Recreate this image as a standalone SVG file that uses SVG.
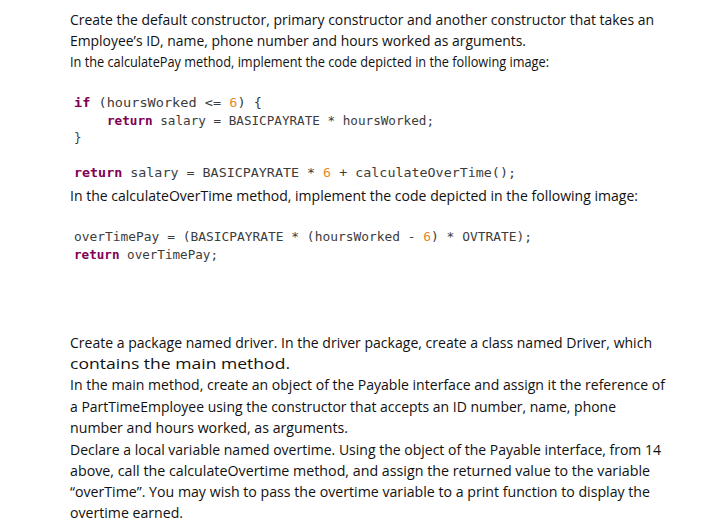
<svg xmlns="http://www.w3.org/2000/svg" width="701" height="523" viewBox="0 0 701 523">
<style>
.t{font-family:"Open Sans","Liberation Sans",sans-serif;font-size:14.3px;fill:#111}
.c{font-family:"DejaVu Sans Mono","Liberation Mono",monospace;font-size:12.5px;fill:#3c3c3c}
.k{fill:#7f0055;font-weight:bold}
.n{fill:#e8892a}
</style>
<rect width="701" height="523" fill="#fff"/>
<text class="t" x="70" y="25" textLength="584" lengthAdjust="spacingAndGlyphs">Create the default constructor, primary constructor and another constructor that takes an</text>
<text class="t" x="70" y="46" textLength="456" lengthAdjust="spacingAndGlyphs">Employee’s ID, name, phone number and hours worked as arguments.</text>
<text class="t" x="70" y="67" textLength="479" lengthAdjust="spacingAndGlyphs">In the calculatePay method, implement the code depicted in the following image:</text>
<text class="c" x="74" y="107" textLength="188" lengthAdjust="spacingAndGlyphs"><tspan class="k">if</tspan> (hoursWorked &lt;= <tspan class="n">6</tspan>) {</text>
<text class="c" x="107" y="125" textLength="327" lengthAdjust="spacingAndGlyphs"><tspan class="k">return</tspan> salary = BASICPAYRATE * hoursWorked;</text>
<text class="c" x="74" y="142">}</text>
<text class="c" x="74" y="177" textLength="442" lengthAdjust="spacingAndGlyphs"><tspan class="k">return</tspan> salary = BASICPAYRATE * <tspan class="n">6</tspan> + calculateOverTime();</text>
<text class="t" x="70" y="201" textLength="568" lengthAdjust="spacingAndGlyphs">In the calculateOverTime method, implement the code depicted in the following image:</text>
<text class="c" x="74" y="241" textLength="458" lengthAdjust="spacingAndGlyphs">overTimePay = (BASICPAYRATE * (hoursWorked - <tspan class="n">6</tspan>) * OVTRATE);</text>
<text class="c" x="74" y="259" textLength="144" lengthAdjust="spacingAndGlyphs"><tspan class="k">return</tspan> overTimePay;</text>
<text class="t" x="70" y="348" textLength="582" lengthAdjust="spacingAndGlyphs">Create a package named driver. In the driver package, create a class named Driver, which</text>
<text class="t" x="70" y="369" textLength="220" lengthAdjust="spacingAndGlyphs">contains the main method.</text>
<text class="t" x="70" y="390" textLength="595" lengthAdjust="spacingAndGlyphs">In the main method, create an object of the Payable interface and assign it the reference of</text>
<text class="t" x="70" y="412" textLength="546" lengthAdjust="spacingAndGlyphs">a PartTimeEmployee using the constructor that accepts an ID number, name, phone</text>
<text class="t" x="70" y="433" textLength="278" lengthAdjust="spacingAndGlyphs">number and hours worked, as arguments.</text>
<text class="t" x="70" y="455" textLength="591" lengthAdjust="spacingAndGlyphs">Declare a local variable named overtime. Using the object of the Payable interface, from 14</text>
<text class="t" x="70" y="476" textLength="580" lengthAdjust="spacingAndGlyphs">above, call the calculateOvertime method, and assign the returned value to the variable</text>
<text class="t" x="70" y="497" textLength="580" lengthAdjust="spacingAndGlyphs">“overTime”. You may wish to pass the overtime variable to a print function to display the</text>
<text class="t" x="70" y="518" textLength="113" lengthAdjust="spacingAndGlyphs">overtime earned.</text>
</svg>
